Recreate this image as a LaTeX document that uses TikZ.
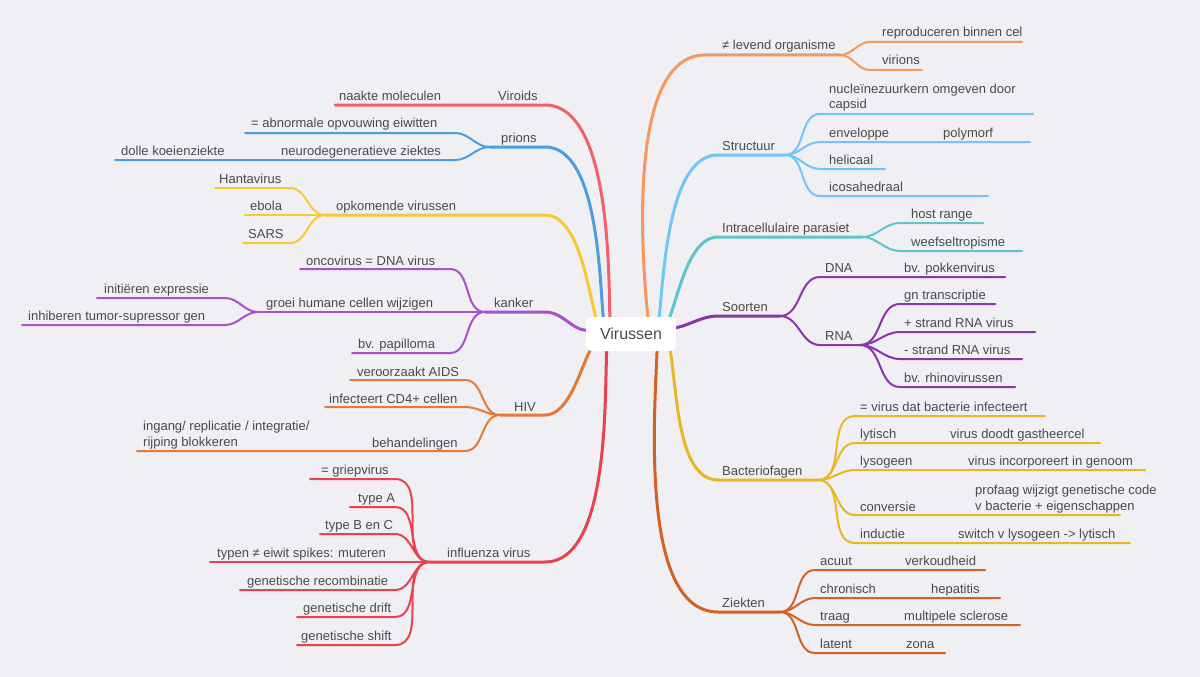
\documentclass[tikz,border=0pt]{standalone}
\usepackage{fontspec}
\setmainfont{Liberation Sans}
\definecolor{bg}{HTML}{F0EFF4}
\definecolor{txt}{HTML}{4A4A4A}
\definecolor{cOrg}{HTML}{F7975B}
\definecolor{cLb}{HTML}{70C6F6}
\definecolor{cTeal}{HTML}{5CC6C9}
\definecolor{cPur}{HTML}{8A36A8}
\definecolor{cYel}{HTML}{E8B725}
\definecolor{cZie}{HTML}{D2621F}
\definecolor{cVir}{HTML}{F2606B}
\definecolor{cPri}{HTML}{4B9FE0}
\definecolor{cOpk}{HTML}{F9C932}
\definecolor{cKan}{HTML}{AB50C8}
\definecolor{cHiv}{HTML}{E67A33}
\definecolor{cInf}{HTML}{E8414F}
\tikzset{
  lbl/.style={anchor=base west,inner sep=0pt,text=txt,font=\fontsize{13}{15}\selectfont},
  mlbl/.style={anchor=base west,inner sep=0pt,text=txt,align=left,font=\fontsize{13}{16}\selectfont},
  mainb/.style={line width=3pt,line cap=round},
  subb/.style={line width=2pt,line cap=round},
}
% right sub: color, hub, x1, y, x2
\newcommand\rsub[5]{\draw[subb,#1] (#2) to[out=0,in=180] (#3,#4) -- (#5,#4);}
\newcommand\lsub[5]{\draw[subb,#1] (#2) to[out=180,in=0] (#3,#4) -- (#5,#4);}
\begin{document}
\begin{tikzpicture}[x=1pt,y=-1pt]
\fill[bg] (0,0) rectangle (1200,677);
\useasboundingbox (0,0) rectangle (1200,677);
\coordinate (c) at (631,334);
% ===== right =====
\coordinate (hOrg) at (840,55);
\draw[mainb,cOrg] (648,318) to[out=-82,in=180] (705,55) -- (hOrg);
\rsub{cOrg}{hOrg}{870}{42}{1022}
\rsub{cOrg}{hOrg}{870}{70}{922}
\node[lbl] (t1) at (722,50) {≠ levend organisme};
\node[lbl] at (882,37) {reproduceren binnen cel};
\node[lbl] at (882,65) {virions};

\coordinate (hSt) at (785,155);
\draw[mainb,cLb] (650,320) to[out=-75,in=180] (718,155) -- (hSt);
\rsub{cLb}{hSt}{820}{114}{1033}
\rsub{cLb}{hSt}{820}{142}{1030}
\rsub{cLb}{hSt}{820}{169}{885}
\rsub{cLb}{hSt}{820}{196}{988}
\node[lbl] at (722,150) {Structuur};
\node[mlbl] at (829,109) {nucleïnezuurkern omgeven door\\capsid};
\node[lbl] at (829,137) {enveloppe};
\node[lbl] at (943,137) {polymorf};
\node[lbl] at (829,164) {helicaal};
\node[lbl] at (829,191) {icosahedraal};

\coordinate (hIn) at (862,237);
\draw[mainb,cTeal] (652,325) to[out=-60,in=180] (718,237) -- (hIn);
\rsub{cTeal}{hIn}{900}{223}{983}
\rsub{cTeal}{hIn}{900}{251}{1022}
\node[lbl] at (722,232) {Intracellulaire parasiet};
\node[lbl] at (911,218) {host range};
\node[lbl] at (911,246) {weefseltropisme};

\coordinate (hSo) at (780,316);
\coordinate (hRna) at (860,345);
\draw[mainb,cPur] (660,326) to[out=-20,in=180] (718,316) -- (hSo);
\rsub{cPur}{hSo}{820}{277}{1005}
\rsub{cPur}{hSo}{820}{345}{860}
\rsub{cPur}{hRna}{900}{304}{995}
\rsub{cPur}{hRna}{900}{332}{1035}
\rsub{cPur}{hRna}{900}{359}{1022}
\rsub{cPur}{hRna}{900}{387}{1015}
\node[lbl] at (722,311) {Soorten};
\node[lbl] at (825,272) {DNA};
\node[lbl] at (904,272) {bv. pokkenvirus};
\node[lbl] at (825,340) {RNA};
\node[lbl] at (904,299) {gn transcriptie};
\node[lbl] at (904,327) {+ strand RNA virus};
\node[lbl] at (904,354) {- strand RNA virus};
\node[lbl] at (904,382) {bv. rhinovirussen};

\coordinate (hBa) at (818,480);
\draw[mainb,cYel] (655,345) to[out=60,in=180] (718,480) -- (hBa);
\rsub{cYel}{hBa}{855}{416}{1045}
\rsub{cYel}{hBa}{855}{443}{1100}
\rsub{cYel}{hBa}{855}{470}{1145}
\rsub{cYel}{hBa}{855}{515}{1120}
\rsub{cYel}{hBa}{855}{543}{1130}
\node[lbl] at (722,475) {Bacteriofagen};
\node[lbl] at (860,411) {= virus dat bacterie infecteert};
\node[lbl] at (860,438) {lytisch};
\node[lbl] at (950,438) {virus doodt gastheercel};
\node[lbl] at (860,465) {lysogeen};
\node[lbl] at (968,465) {virus incorporeert in genoom};
\node[lbl] at (860,511) {conversie};
\node[mlbl] at (975,510) {profaag wijzigt genetische code\\v bacterie + eigenschappen};
\node[lbl] at (860,538) {inductie};
\node[lbl] at (958,538) {switch v lysogeen -> lytisch};

\coordinate (hZi) at (780,612);
\draw[mainb,cZie] (650,348) to[out=75,in=180] (718,612) -- (hZi);
\rsub{cZie}{hZi}{815}{570}{985}
\rsub{cZie}{hZi}{815}{598}{1000}
\rsub{cZie}{hZi}{815}{625}{1020}
\rsub{cZie}{hZi}{815}{653}{945}
\node[lbl] at (722,607) {Ziekten};
\node[lbl] at (820,565) {acuut};
\node[lbl] at (905,565) {verkoudheid};
\node[lbl] at (820,593) {chronisch};
\node[lbl] at (931,593) {hepatitis};
\node[lbl] at (820,620) {traag};
\node[lbl] at (904,620) {multipele sclerose};
\node[lbl] at (820,648) {latent};
\node[lbl] at (906,648) {zona};
% ===== left =====
\draw[mainb,cVir] (615,318) to[out=-100,in=0] (545,105) -- (335,105);
\node[lbl] at (498,100) {Viroids};
\node[lbl] at (339,100) {naakte moleculen};

\coordinate (hPr) at (490,147);
\draw[mainb,cPri] (612,320) to[out=-105,in=0] (545,147) -- (hPr);
\lsub{cPri}{hPr}{455}{133}{245}
\lsub{cPri}{hPr}{455}{160}{115}
\node[lbl] at (501,142) {prions};
\node[lbl] at (251,128) {= abnormale opvouwing eiwitten};
\node[lbl] at (281,155) {neurodegeneratieve ziektes};
\node[lbl] at (121,155) {dolle koeienziekte};

\coordinate (hOp) at (325,215);
\draw[mainb,cOpk] (608,322) to[out=-110,in=0] (545,215) -- (hOp);
\lsub{cOpk}{hOp}{290}{188}{215}
\lsub{cOpk}{hOp}{290}{215}{245}
\lsub{cOpk}{hOp}{290}{243}{243}
\node[lbl] at (336,210) {opkomende virussen};
\node[lbl] at (219,183) {Hantavirus};
\node[lbl] at (250,210) {ebola};
\node[lbl] at (248,238) {SARS};

\coordinate (hKa) at (485,312);
\coordinate (hGr) at (258,312);
\draw[mainb,cKan] (592,330) to[out=190,in=0] (545,312) -- (hKa);
\lsub{cKan}{hKa}{450}{269}{300}
\lsub{cKan}{hKa}{450}{312}{258}
\lsub{cKan}{hKa}{450}{353}{352}
\lsub{cKan}{hGr}{225}{298}{97}
\lsub{cKan}{hGr}{225}{325}{22}
\node[lbl] at (494,307) {kanker};
\node[lbl] at (306,265) {oncovirus = DNA virus};
\node[lbl] at (266,307) {groei humane cellen wijzigen};
\node[lbl] at (104,293) {initiëren expressie};
\node[lbl] at (28,320) {inhiberen tumor-supressor gen};
\node[lbl] at (358,348) {bv. papilloma};

\coordinate (hHi) at (500,415);
\draw[mainb,cHiv] (605,348) to[out=120,in=0] (545,415) -- (hHi);
\lsub{cHiv}{hHi}{465}{380}{350}
\lsub{cHiv}{hHi}{465}{407}{325}
\lsub{cHiv}{hHi}{465}{451}{137}
\node[lbl] at (514,411) {HIV};
\node[lbl] at (357,376) {veroorzaakt AIDS};
\node[lbl] at (329,403) {infecteert CD4+ cellen};
\node[lbl] at (372,447) {behandelingen};
\node[mlbl] at (143,446) {ingang/ replicatie / integratie/\\rijping blokkeren};

\coordinate (hIf) at (430,562);
\draw[mainb,cInf] (615,350) to[out=105,in=0] (545,562) -- (hIf);
\lsub{cInf}{hIf}{395}{479}{310}
\lsub{cInf}{hIf}{395}{507}{350}
\lsub{cInf}{hIf}{395}{534}{320}
\lsub{cInf}{hIf}{395}{562}{210}
\lsub{cInf}{hIf}{395}{590}{240}
\lsub{cInf}{hIf}{395}{617}{297}
\lsub{cInf}{hIf}{395}{645}{297}
\node[lbl] at (447,557) {influenza virus};
\node[lbl] at (321,474) {= griepvirus};
\node[lbl] at (358,502) {type A};
\node[lbl] at (325,529) {type B en C};
\node[lbl] at (217,557) {typen ≠ eiwit spikes: muteren};
\node[lbl] at (247,585) {genetische recombinatie};
\node[lbl] at (303,612) {genetische drift};
\node[lbl] at (301,640) {genetische shift};
% center
\node[fill=white,rounded corners=6pt,minimum width=90pt,minimum height=34pt,text=txt,font=\fontsize{16}{18}\selectfont] (center) at (c) {Virussen};
\end{tikzpicture}
\end{document}
